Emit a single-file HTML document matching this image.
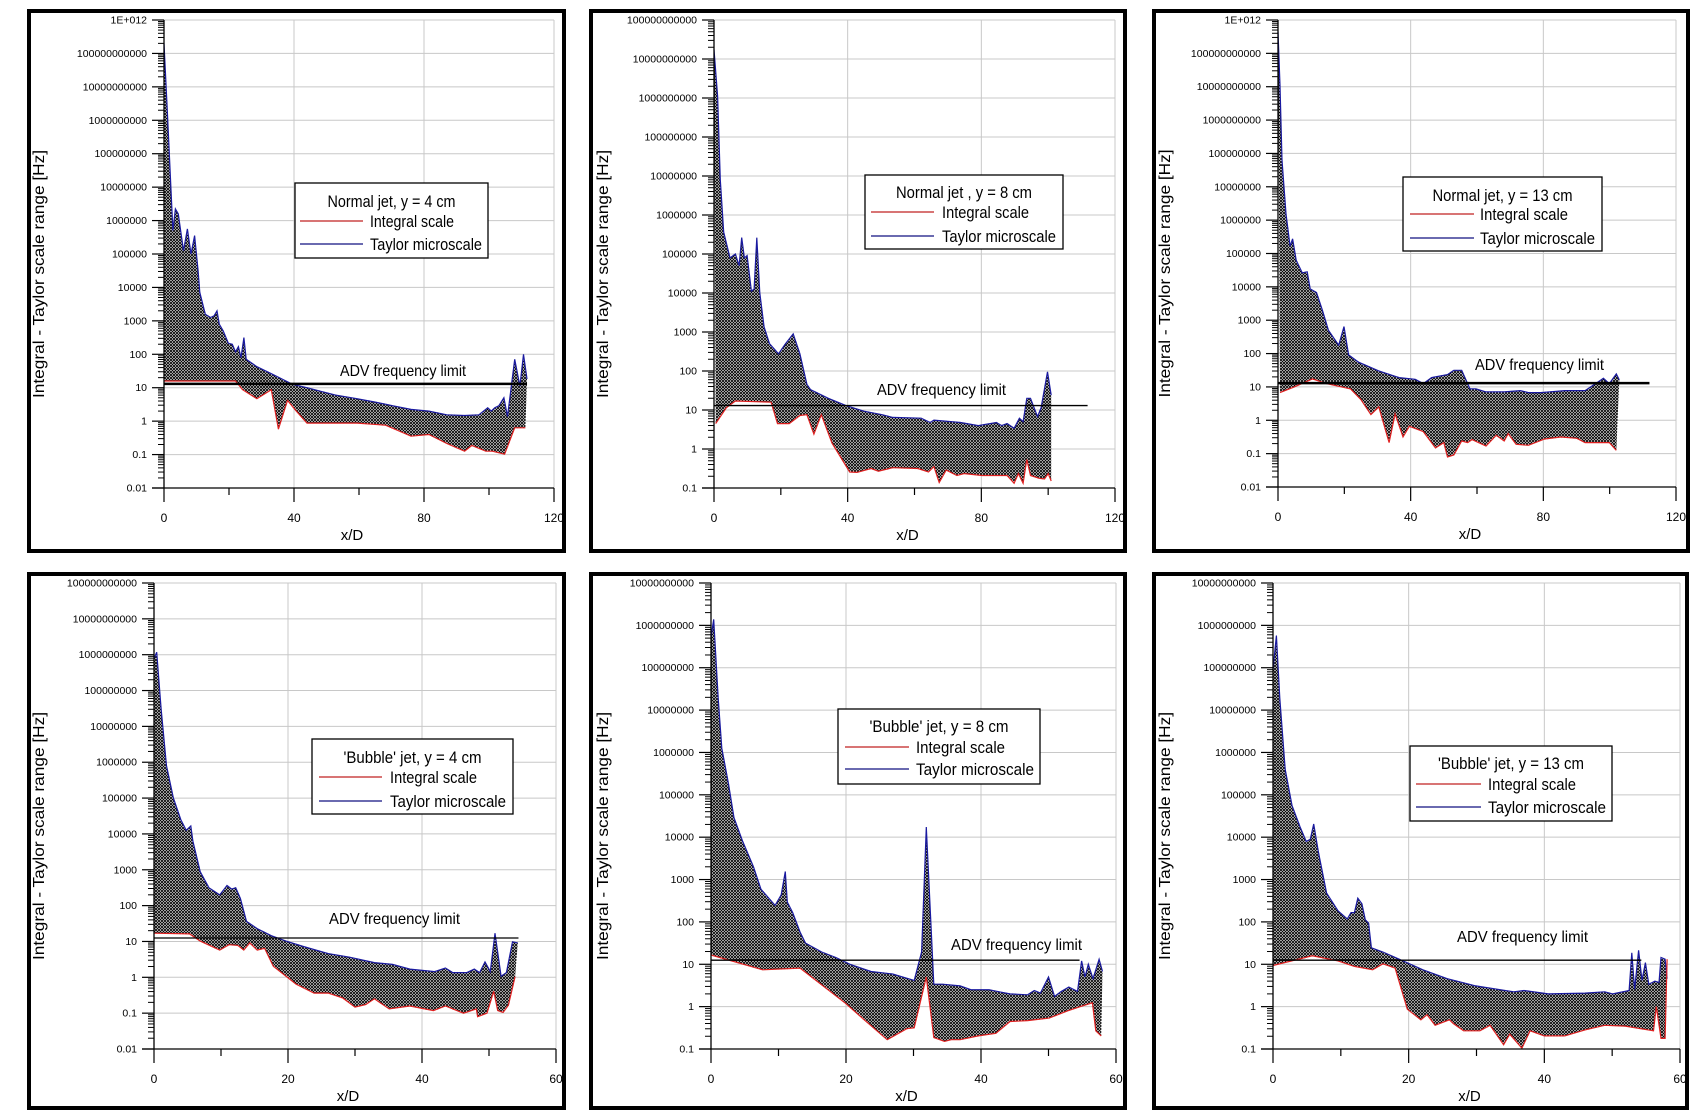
<!DOCTYPE html>
<html><head><meta charset="utf-8"><style>
html,body{margin:0;padding:0;background:#fff;}
svg{display:block;font-family:"Liberation Sans",Arial,sans-serif;}
</style></head><body>
<svg id="chart" width="1693" height="1116" viewBox="0 0 1693 1116" xmlns="http://www.w3.org/2000/svg">
<defs>
<pattern id="hatch" patternUnits="userSpaceOnUse" width="3" height="3">
<rect width="3" height="3" fill="#fff"/>
<path d="M0,0 L3,3 M3,0 L0,3" stroke="#000" stroke-width="0.9"/>
</pattern>
</defs>
</svg>
<script>
// ---------- DATA (x/D positions and log10 of frequency [Hz]) ----------
const p1TaylorX=[0,1.1,2.75,3.5,4.4,6,7.2,8.3,9.4,10.5,11,12.7,14.3,15.4,16.3,17,18.2,19.8,21,22,22.9,23.7,24.6,25.3,28.6,33,36.3,39.6,44,48.4,52.8,59.4,65,70.5,76,81.5,87,92.5,96.9,99.6,100.7,101.8,103,104.6,105.7,107.9,109.5,110.6,111.7];
const p1TaylorLog=[11.3,9.1,5.7,6.35,6.2,5.1,5.75,5.0,5.55,4.5,3.85,3.2,3.1,3.15,3.3,2.9,2.7,2.33,2.3,2.07,2.23,1.9,2.5,1.85,1.63,1.42,1.26,1.1,1.0,0.89,0.78,0.67,0.57,0.46,0.35,0.3,0.19,0.17,0.19,0.4,0.3,0.4,0.46,0.7,0.14,1.85,1.05,2.0,1.26];
const p1IntegralX=[0,22,24.2,28.6,33,35.2,38,40.7,44,59.4,68.2,76,81.5,87,92.5,94.7,99,101,104.8,107.9,111.2];
const p1IntegralLog=[1.2,1.2,0.94,0.67,0.94,-0.24,0.62,0.3,-0.06,-0.06,-0.12,-0.45,-0.4,-0.67,-0.9,-0.73,-0.9,-0.9,-0.99,-0.2,-0.2];

const p2TaylorX=[0,1.07,1.9,2.9,3.7,4.8,6.4,7.5,8.3,9.1,9.9,11.2,12,12.8,13.7,15,16.6,19.3,21.4,23.7,25.7,27.8,28.9,34.2,39.6,44.9,50.3,53.5,62,64.7,65.8,73.8,79.1,84.5,86.1,87.7,89.8,91.4,92.5,93.6,94.7,96.8,97.9,99.8,100.9];
const p2TaylorLog=[10.24,9.05,6.9,5.56,5.28,4.9,5.0,4.7,5.42,4.9,4.96,4.05,4.1,5.42,4.0,3.13,2.7,2.44,2.7,2.95,2.44,1.66,1.52,1.3,1.11,0.97,0.88,0.81,0.79,0.68,0.74,0.68,0.6,0.68,0.6,0.65,0.53,0.79,0.7,1.3,1.3,0.83,1.06,1.98,1.38];
const p2IntegralX=[0.5,3.7,6.4,17.1,19,22.5,25.7,27.8,29.9,32.1,35.3,40.6,42.8,47,49.2,53.5,61,64.2,65.8,67.4,69.5,72.7,74.9,80.2,87.7,89.8,91.1,92.5,93.6,94.7,97.3,98.9,100,100.9];
const p2IntegralLog=[0.65,1.06,1.23,1.2,0.65,0.65,0.86,0.88,0.38,0.88,0.15,-0.59,-0.6,-0.5,-0.57,-0.48,-0.5,-0.59,-0.45,-0.86,-0.54,-0.68,-0.63,-0.68,-0.68,-0.88,-0.63,-0.88,-0.27,-0.68,-0.75,-0.77,-0.63,-0.82];

const p3TaylorX=[0,0.6,1.2,2.4,3.65,4.4,5.5,7.3,8.8,9.7,11.6,13.4,15.2,18.3,19.9,21.3,24.3,30.4,36.5,41.4,43.8,46.3,51.1,53,55.4,57.9,59.7,62.7,68.2,73.1,75.5,79.2,86.5,92.6,95,98.1,99.9,102,102.9];
const p3TaylorLog=[11.65,10.04,7.8,6.19,5.22,5.44,4.8,4.42,4.45,3.94,3.83,3.3,2.7,2.25,2.81,1.96,1.74,1.48,1.28,1.23,1.1,1.28,1.37,1.5,1.5,0.94,0.94,0.85,0.85,0.89,0.83,0.83,0.89,0.89,1.05,1.26,1.1,1.39,1.21];
const p3IntegralX=[0.6,4.9,10.4,14.6,21.9,25,28,30.4,33.5,35.3,37.7,39.6,43.8,47.5,50,51.1,53,55.4,57.2,58.5,62.7,65.8,68.2,69.4,71.8,75.5,80.4,85.3,90.1,92.6,99.9,102];
const p3IntegralLog=[0.83,1.0,1.24,1.1,0.94,0.62,0.17,0.4,-0.67,0.19,-0.5,-0.18,-0.34,-0.83,-0.67,-1.1,-1.04,-0.62,-0.67,-0.58,-0.77,-0.45,-0.62,-0.4,-0.72,-0.75,-0.56,-0.5,-0.54,-0.67,-0.67,-0.9];

const p4TaylorX=[0,0.4,1.06,1.86,2.9,4,4.8,5.5,5.8,6.9,8.2,9.8,10.9,11.6,12.2,12.9,13.8,15.4,17.5,19.7,22.3,26,29.2,32.9,35.6,38.2,41.9,43.5,44.6,46.7,47.8,48.6,49.4,50.2,50.9,51.8,52.6,53.5,54.3];
const p4TaylorLog=[8.89,9.07,7.5,5.9,5.0,4.4,4.1,4.22,3.8,2.95,2.5,2.3,2.56,2.46,2.5,2.2,1.56,1.36,1.16,1.01,0.86,0.66,0.56,0.41,0.36,0.23,0.16,0.26,0.13,0.13,0.23,0.13,0.43,0.16,1.23,0.03,0.13,0.99,0.96];
const p4IntegralX=[0,5.3,6.9,9.8,11.2,12.5,13.4,14.3,15.4,16.5,17.8,21.2,23.9,26,28.2,30,31.6,32.9,35.1,38.2,41.7,43.5,46.2,48.1,48.3,49.7,50.7,51.3,52.1,52.9,53.9];
const p4IntegralLog=[1.23,1.21,1.01,0.76,0.91,0.89,0.76,0.96,0.76,0.81,0.31,-0.19,-0.44,-0.44,-0.58,-0.83,-0.76,-0.6,-0.88,-0.8,-0.93,-0.8,-1.0,-0.88,-1.1,-1.0,-0.39,-0.93,-0.98,-0.78,0.02];

const p5TaylorX=[0,0.4,1.06,1.6,2.6,3.4,4.7,6.3,7.4,9.5,10.4,11,11.3,12.1,13.2,14,16.4,18.5,20.6,23.7,26.9,30.1,31.2,31.9,33,34.3,36.9,38.5,41.2,42.7,44.3,46.9,47.9,48.8,50,50.9,51.8,53,54.3,54.9,55.4,55.9,56.6,57.5,58.0];
const p5TaylorLog=[8.72,9.14,7.28,6.1,5.26,4.46,3.9,3.3,2.77,2.39,2.64,3.19,2.47,2.22,1.76,1.5,1.29,1.16,1.0,0.83,0.77,0.62,1.29,4.24,0.53,0.53,0.49,0.4,0.4,0.35,0.3,0.28,0.38,0.32,0.7,0.24,0.35,0.46,0.36,1.08,0.7,1.0,0.66,1.12,0.83];
const p5IntegralX=[0,7.65,13.2,20,22.7,26.1,29,30.1,31.9,33,34.6,35.6,36.9,39.6,42.2,44.3,46.9,50.1,52.8,54.9,56.5,57,57.8];
const p5IntegralLog=[1.22,0.87,0.91,0.07,-0.31,-0.78,-0.52,-0.5,0.7,-0.73,-0.82,-0.78,-0.78,-0.69,-0.63,-0.35,-0.33,-0.27,-0.1,0.01,0.09,-0.57,-0.69];

const p6TaylorX=[0,0.5,1.0,1.8,2.8,4,4.9,5.5,6,6.7,7.9,9.6,10.95,11.5,12,12.5,13.1,13.6,14.1,14.5,16.2,18.6,22.1,25.7,29.9,33.5,35.5,37,40.6,46,48.9,50.1,51.9,52.5,52.9,53.3,53.9,54.4,54.9,55.4,56.3,56.9,57.2,57.8,58.1];
const p6TaylorLog=[7.96,8.76,7.28,5.6,4.75,4.24,3.9,3.95,4.31,3.65,2.68,2.26,2.07,2.22,2.22,2.56,2.43,2.05,1.97,1.39,1.29,1.12,0.87,0.66,0.49,0.4,0.35,0.38,0.3,0.32,0.35,0.3,0.36,0.38,1.27,0.41,1.33,0.62,1.04,0.53,0.6,0.57,1.16,1.12,0.66];
const p6IntegralX=[0,5.8,9.6,12,14.7,16.2,18,19.8,21.8,22.7,23.9,26,26.6,28.1,30.5,32,34,34.9,36.7,37.9,40,43,46,48.9,51.9,56.1,56.5,57.2,57.8,58.1];
const p6IntegralLog=[0.97,1.2,1.08,0.95,0.87,1.01,0.91,-0.06,-0.31,-0.19,-0.44,-0.31,-0.4,-0.57,-0.57,-0.44,-0.9,-0.65,-0.98,-0.57,-0.69,-0.69,-0.55,-0.44,-0.46,-0.57,0.0,-0.75,-0.75,1.12];

// ADV frequency limit (Hz) and extent (x/D)
const advLimit=[13,13,13,12.5,12.5,12.5];
const advEnd=[111.7,111.8,112,54.4,54.6,54.3];

// tick labels
const yLabels12=["0.01","0.1","1","10","100","1000","10000","100000","1000000","10000000","100000000","1000000000","10000000000","100000000000","1E+012"];
const yLabels11=["0.1","1","10","100","1000","10000","100000","1000000","10000000","100000000","1000000000","10000000000","100000000000"];
const yLabels11b=["0.01","0.1","1","10","100","1000","10000","100000","1000000","10000000","100000000","1000000000","10000000000","100000000000"];
const yLabels10=["0.1","1","10","100","1000","10000","100000","1000000","10000000","100000000","1000000000","10000000000"];
const xTicks120=[0,40,80,120];
const xMinor120=[20,60,100];
const xTicks60=[0,20,40,60];
const xMinor60=[10,30,50];
const legendTitles=["Normal jet, y = 4 cm","Normal jet , y = 8 cm","Normal jet, y = 13 cm","'Bubble' jet, y = 4 cm","'Bubble' jet, y = 8 cm","'Bubble' jet, y = 13 cm"];

// ---------- LAYOUT ----------
const panels=[
 {n:1,fx:29,fy:11,fw:535,fh:540,px0:164,px1:554,xmax:120,yT:20,yB:488,logMin:-2,labels:yLabels12,tx:p1TaylorX,ty:p1TaylorLog,ix:p1IntegralX,iy:p1IntegralLog,xt:xTicks120,xm:xMinor120,ylx:38,
  lg:{x:295,y:183,w:193,h:75,tc:201,l1:221,l2:244,lx1:300,lx2:363,tx:370,tw:128,iw:84,ww:112},adv:{x:340,y:376,w:126}},
 {n:2,fx:591,fy:11,fw:534,fh:540,px0:714,px1:1115,xmax:120,yT:20,yB:488,logMin:-1,labels:yLabels11,tx:p2TaylorX,ty:p2TaylorLog,ix:p2IntegralX,iy:p2IntegralLog,xt:xTicks120,xm:xMinor120,ylx:602,
  lg:{x:865,y:175,w:198,h:74,tc:192,l1:212,l2:236,lx1:871,lx2:934,tx:942,tw:136,iw:87,ww:114},adv:{x:877,y:395,w:129}},
 {n:3,fx:1154,fy:11,fw:534,fh:540,px0:1278,px1:1676,xmax:120,yT:20,yB:487,logMin:-2,labels:yLabels12,tx:p3TaylorX,ty:p3TaylorLog,ix:p3IntegralX,iy:p3IntegralLog,xt:xTicks120,xm:xMinor120,ylx:1164,
  lg:{x:1403,y:177,w:199,h:74,tc:195,l1:214,l2:238,lx1:1410,lx2:1474,tx:1480,tw:140,iw:88,ww:115},adv:{x:1475,y:370,w:129}},
 {n:4,fx:29,fy:574,fw:535,fh:534,px0:154,px1:556,xmax:60,yT:583,yB:1049,logMin:-2,labels:yLabels11b,tx:p4TaylorX,ty:p4TaylorLog,ix:p4IntegralX,iy:p4IntegralLog,xt:xTicks60,xm:xMinor60,ylx:38,
  lg:{x:312,y:739,w:201,h:75,tc:757,l1:777,l2:801,lx1:319,lx2:382,tx:390,tw:138,iw:87,ww:116},adv:{x:329,y:924,w:131}},
 {n:5,fx:591,fy:574,fw:534,fh:534,px0:711,px1:1116,xmax:60,yT:583,yB:1049,logMin:-1,labels:yLabels10,tx:p5TaylorX,ty:p5TaylorLog,ix:p5IntegralX,iy:p5IntegralLog,xt:xTicks60,xm:xMinor60,ylx:602,
  lg:{x:838,y:709,w:202,h:75,tc:726,l1:747,l2:769,lx1:845,lx2:909,tx:916,tw:139,iw:89,ww:118},adv:{x:951,y:950,w:131}},
 {n:6,fx:1154,fy:574,fw:533,fh:534,px0:1273,px1:1680,xmax:60,yT:583,yB:1049,logMin:-1,labels:yLabels10,tx:p6TaylorX,ty:p6TaylorLog,ix:p6IntegralX,iy:p6IntegralLog,xt:xTicks60,xm:xMinor60,ylx:1164,
  lg:{x:1410,y:746,w:202,h:75,tc:763,l1:784,l2:807,lx1:1416,lx2:1481,tx:1488,tw:146,iw:88,ww:118},adv:{x:1457,y:942,w:131}}
];

const NS="http://www.w3.org/2000/svg";
const svg=document.getElementById('chart');
function mk(tag,attrs,parent){const e=document.createElementNS(NS,tag);for(const k in attrs)e.setAttribute(k,attrs[k]);(parent||svg).appendChild(e);return e;}

panels.forEach((P,pi)=>{
  const g=mk('g',{});
  
  
  const logMax=P.logMin+P.labels.length-1;
  const sx=v=>P.px0+(v/P.xmax)*(P.px1-P.px0);
  const sy=l=>P.yB-(l-P.logMin)/(logMax-P.logMin)*(P.yB-P.yT);

  for(let i=0;i<P.labels.length;i++){
    const y=sy(P.logMin+i);
    const gl=mk('line',{x1:P.px0,x2:P.px1,y1:y,y2:y,stroke:'#c8c8c8','stroke-width':1},g);
    
    
  }
  P.xt.forEach(v=>{ if(v===0)return;
    const vl=mk('line',{x1:sx(v),x2:sx(v),y1:P.yT,y2:P.yB,stroke:'#c8c8c8','stroke-width':1},g);
    
    
  });

  let pts=[];
  P.tx.forEach((x,i)=>pts.push(sx(x).toFixed(1)+','+sy(P.ty[i]).toFixed(1)));
  for(let i=P.ix.length-1;i>=0;i--)pts.push(sx(P.ix[i]).toFixed(1)+','+sy(P.iy[i]).toFixed(1));
  const band=mk('polygon',{points:pts.join(' '),fill:'url(#hatch)',stroke:'none'},g);
  
  
  const tl=mk('polyline',{points:P.tx.map((x,i)=>sx(x).toFixed(1)+','+sy(P.ty[i]).toFixed(1)).join(' '),fill:'none',stroke:'#1a1aa0','stroke-width':1.2},g);
  
  
  const il=mk('polyline',{points:P.ix.map((x,i)=>sx(x).toFixed(1)+','+sy(P.iy[i]).toFixed(1)).join(' '),fill:'none',stroke:'#e02020','stroke-width':1.2},g);
  
  

  const ay=sy(Math.log10(advLimit[pi]));
  const al=mk('line',{x1:sx(0),x2:sx(advEnd[pi]),y1:ay,y2:ay,stroke:'#000','stroke-width':(pi===0||pi===2)?2.5:1.3},g);
  
  
  const at=mk('text',{x:P.adv.x,y:P.adv.y,'font-size':16,textLength:P.adv.w,lengthAdjust:'spacingAndGlyphs',fill:'#000'},g);
  at.textContent='ADV frequency limit';
  
  

  const ya=mk('line',{x1:P.px0,x2:P.px0,y1:P.yT,y2:P.yB,stroke:'#000','stroke-width':1.3},g);
  
  
  const xa=mk('line',{x1:P.px0-12,x2:P.px1,y1:P.yB,y2:P.yB,stroke:'#000','stroke-width':1.3},g);
  
  

  for(let i=0;i<P.labels.length;i++){
    const l=P.logMin+i, y=sy(l);
    mk('line',{x1:P.px0-12,x2:P.px0,y1:y,y2:y,stroke:'#000','stroke-width':1.2},g);
    if(i<P.labels.length-1){
      for(let m=2;m<=9;m++){const yy=sy(l+Math.log10(m));mk('line',{x1:P.px0-6,x2:P.px0,y1:yy,y2:yy,stroke:'#000','stroke-width':1},g);}
    }
    const t=mk('text',{x:P.px0-17,y:y+3.5,'font-size':10.5,'text-anchor':'end',fill:'#000'},g);
    t.textContent=P.labels[i];
    
    
  }
  P.xt.forEach(v=>{
    const x=sx(v);
    mk('line',{x1:x,x2:x,y1:P.yB,y2:P.yB+14,stroke:'#000','stroke-width':1.2},g);
    const t=mk('text',{x:x,y:P.yB+34,'font-size':12,'text-anchor':'middle',fill:'#000'},g);
    t.textContent=String(v);
    
    
  });
  P.xm.forEach(v=>{const x=sx(v);mk('line',{x1:x,x2:x,y1:P.yB,y2:P.yB+7,stroke:'#000','stroke-width':1.2},g);});

  const xt=mk('text',{x:(P.px0+P.px1)/2-7,y:P.yB+52,'font-size':15,'text-anchor':'middle',fill:'#000'},g);
  xt.textContent='x/D';
  
  
  const yc=(P.yT+P.yB)/2+20;
  const yt=mk('text',{x:P.ylx+6,y:yc,'font-size':16,'text-anchor':'middle',textLength:248,lengthAdjust:'spacingAndGlyphs',transform:'rotate(-90 '+(P.ylx+6)+' '+yc+')',fill:'#000'},g);
  yt.textContent='Integral - Taylor scale range [Hz]';
  
  

  const L=P.lg;
  const lgG=mk('g',{},g);
  
  
  mk('rect',{x:L.x,y:L.y,width:L.w,height:L.h,fill:'#fff',stroke:'#000','stroke-width':1.3},lgG);
  const lt=mk('text',{x:L.x+L.w/2,y:L.tc+6,'font-size':17,'text-anchor':'middle',textLength:L.tw,lengthAdjust:'spacingAndGlyphs'},lgG);
  lt.textContent=legendTitles[pi];
  
  
  mk('line',{x1:L.lx1,x2:L.lx2,y1:L.l1,y2:L.l1,stroke:'#c02020','stroke-width':1.3},lgG);
  const t1=mk('text',{x:L.tx,y:L.l1+6,'font-size':17,textLength:L.iw,lengthAdjust:'spacingAndGlyphs'},lgG);
  t1.textContent='Integral scale';
  
  
  mk('line',{x1:L.lx1,x2:L.lx2,y1:L.l2,y2:L.l2,stroke:'#101080','stroke-width':1.3},lgG);
  const t2=mk('text',{x:L.tx,y:L.l2+6,'font-size':17,textLength:L.ww,lengthAdjust:'spacingAndGlyphs'},lgG);
  t2.textContent='Taylor microscale';
  
  

  const fr=mk('rect',{x:P.fx,y:P.fy,width:P.fw,height:P.fh,fill:'none',stroke:'#000','stroke-width':4},g);
  
  
});
</script>
</body></html>
